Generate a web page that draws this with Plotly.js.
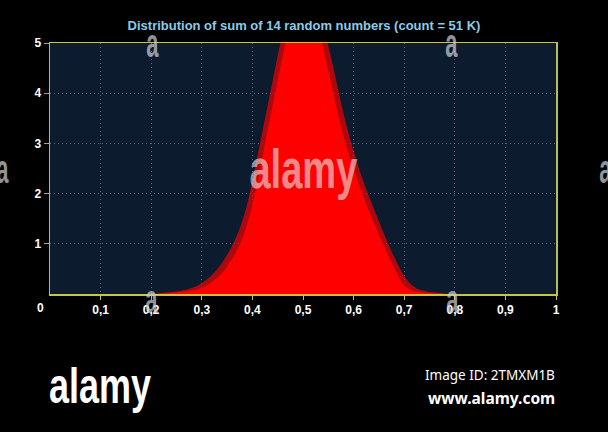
<!DOCTYPE html>
<html>
<head>
<meta charset="utf-8">
<script src="https://cdn.plot.ly/plotly-3.0.1.min.js"></script>
<style>html,body{margin:0;padding:0;background:#000;}#chart{width:608px;height:432px;}</style>
</head>
<body>
<div id="chart"></div>
<script>
// bin centres (sum / 14)
const binX = [0.20,0.21,0.22,0.23,0.24,0.25,0.26,0.27,0.28,0.29,
  0.30,0.31,0.32,0.33,0.34,0.35,0.36,0.37,0.38,0.39,
  0.40,0.41,0.42,0.43,0.44,0.45,0.46,0.47,0.48,0.49,
  0.50,0.51,0.52,0.53,0.54,0.55,0.56,0.57,0.58,0.59,
  0.60,0.61,0.62,0.63,0.64,0.65,0.66,0.67,0.68,0.69,
  0.70,0.71,0.72,0.73,0.74,0.75,0.76,0.77,0.78,0.79,0.80];
// bright core of the histogram
const coreDensity = [0.00,0.00,0.01,0.01,0.02,0.03,0.04,0.05,0.07,0.09,
  0.12,0.17,0.24,0.32,0.42,0.55,0.70,0.88,1.10,1.40,
  1.78,2.25,2.75,3.25,3.75,4.25,4.75,5.20,5.50,5.60,
  5.60,5.60,5.50,5.25,4.90,4.45,4.00,3.55,3.15,2.80,
  2.50,2.20,1.92,1.66,1.42,1.18,0.95,0.73,0.52,0.33,
  0.17,0.10,0.06,0.04,0.03,0.02,0.01,0.01,0.00,0.00,0.00];
// spiky outer envelope of the histogram
const peakDensity = [0.01,0.01,0.02,0.03,0.04,0.05,0.07,0.09,0.12,0.16,
  0.22,0.29,0.38,0.49,0.62,0.78,0.96,1.18,1.45,1.80,
  2.25,2.75,3.25,3.75,4.25,4.75,5.20,5.60,5.70,5.70,
  5.70,5.70,5.70,5.60,5.35,4.95,4.50,4.05,3.60,3.20,
  2.85,2.52,2.22,1.95,1.70,1.45,1.20,0.96,0.74,0.54,
  0.36,0.23,0.14,0.09,0.06,0.04,0.03,0.02,0.01,0.00,0.00];
const xTickVals = [0.1,0.2,0.3,0.4,0.5,0.6,0.7,0.8,0.9,1];
const xTickText = ['0,1','0,2','0,3','0,4','0,5','0,6','0,7','0,8','0,9','1'];
const yTickVals = [1,2,3,4,5];
const yTickText = ['1','2','3','4','5'];

const traces = [
  {x: binX, y: peakDensity, type: 'scatter', mode: 'lines', fill: 'tozeroy',
   line: {width: 0, shape: 'spline'}, fillcolor: 'rgba(255,0,0,0.66)', hoverinfo: 'skip'},
  {x: binX, y: coreDensity, type: 'scatter', mode: 'lines', fill: 'tozeroy',
   line: {width: 0, shape: 'spline'}, fillcolor: '#ff0000', hoverinfo: 'skip'}
];

const sans = 'Liberation Sans, Arial, sans-serif';
const tickFont = {family: sans, size: 12, color: '#ffffff', weight: 'bold'};
const wmA = {family: sans, size: 40, color: 'rgba(205,205,210,0.72)', weight: 'bold'};

function ann(text, x, y, font, extra) {
  return Object.assign({text: text, xref: 'paper', yref: 'paper', x: x, y: y, showarrow: false,
    xanchor: 'center', yanchor: 'middle', font: font}, extra || {});
}

const annotations = [
  ann('0', -0.019, -0.056, tickFont),
  ann('alamy', 0.501, 0.50, {family: sans, size: 56, color: 'rgba(232,232,232,0.6)', weight: 'bold'}),
  ann('a', 0.2026, 1.0, wmA),
  ann('a', 0.7935, 1.0, wmA),
  ann('a', 0.2006, -0.02, wmA),
  ann('a', 0.795, -0.02, wmA),
  ann('a', -0.094, 0.50, wmA),
  ann('a', 1.098, 0.50, wmA),
  ann('alamy', 0.098, -0.365, {family: sans, size: 50, color: '#ffffff', weight: 'bold'}),
  ann('Image ID: 2TMXM1B', 1.001, -0.323, {family: 'Noto Sans, Open Sans, sans-serif', size: 13.5, color: '#ffffff'}, {xanchor: 'right'}),
  ann('www.alamy.com', 1.001, -0.415, {family: 'Noto Sans, Open Sans, sans-serif', size: 15.5, color: '#ffffff', weight: 'bold'}, {xanchor: 'right'})
];
// horizontal squeeze for the condensed watermark lettering (by annotation index)
const squeeze = [0, 0.68, 0.55, 0.55, 0.55, 0.55, 0.55, 0.55, 0.72, 0, 0];

const layout = {
  width: 608, height: 432,
  paper_bgcolor: '#000000', plot_bgcolor: '#0c1b2e',
  margin: {l: 50, r: 52, t: 43, b: 138},
  showlegend: false,
  title: {text: 'Distribution of sum of 14 random numbers (count = 51 K)',
    font: {family: sans, size: 13, color: '#8ccbe8', weight: 'bold'},
    x: 0.5, xref: 'container', xanchor: 'center', y: 1 - 25/432, yref: 'container', yanchor: 'middle'},
  xaxis: {range: [0, 1], tickvals: xTickVals, ticktext: xTickText, tickfont: tickFont,
    showgrid: true, gridcolor: 'rgba(140,160,190,0.6)', griddash: '1px,3px', gridwidth: 1,
    showline: true, linecolor: '#c9c63e', linewidth: 1.5, mirror: true,
    ticks: 'outside', ticklen: 4, tickcolor: '#c9c63e', zeroline: false, fixedrange: true},
  yaxis: {range: [0, 5], tickvals: yTickVals, ticktext: yTickText, tickfont: tickFont,
    showgrid: true, gridcolor: 'rgba(140,160,190,0.6)', griddash: '1px,3px', gridwidth: 1,
    showline: true, linecolor: '#b3c24a', linewidth: 1.5, mirror: true,
    ticks: 'outside', ticklen: 5, tickcolor: '#9aa0a8', zeroline: false, fixedrange: true},
  annotations: annotations
};

const gd = document.getElementById('chart');
Plotly.newPlot(gd, traces, layout, {staticPlot: true, displayModeBar: false}).then(function () {
  gd.querySelectorAll('g.annotation').forEach(function (g) {
    const idx = +g.getAttribute('data-index');
    const s = squeeze[idx];
    if (!s) return;
    const t = g.querySelector('text.annotation-text');
    if (!t) return;
    const bb = t.getBBox();
    const cx = bb.x + bb.width / 2;
    t.setAttribute('transform', 'translate(' + cx + ',0) scale(' + s + ',1) translate(' + (-cx) + ',0)');
  });
});
</script>
</body>
</html>
